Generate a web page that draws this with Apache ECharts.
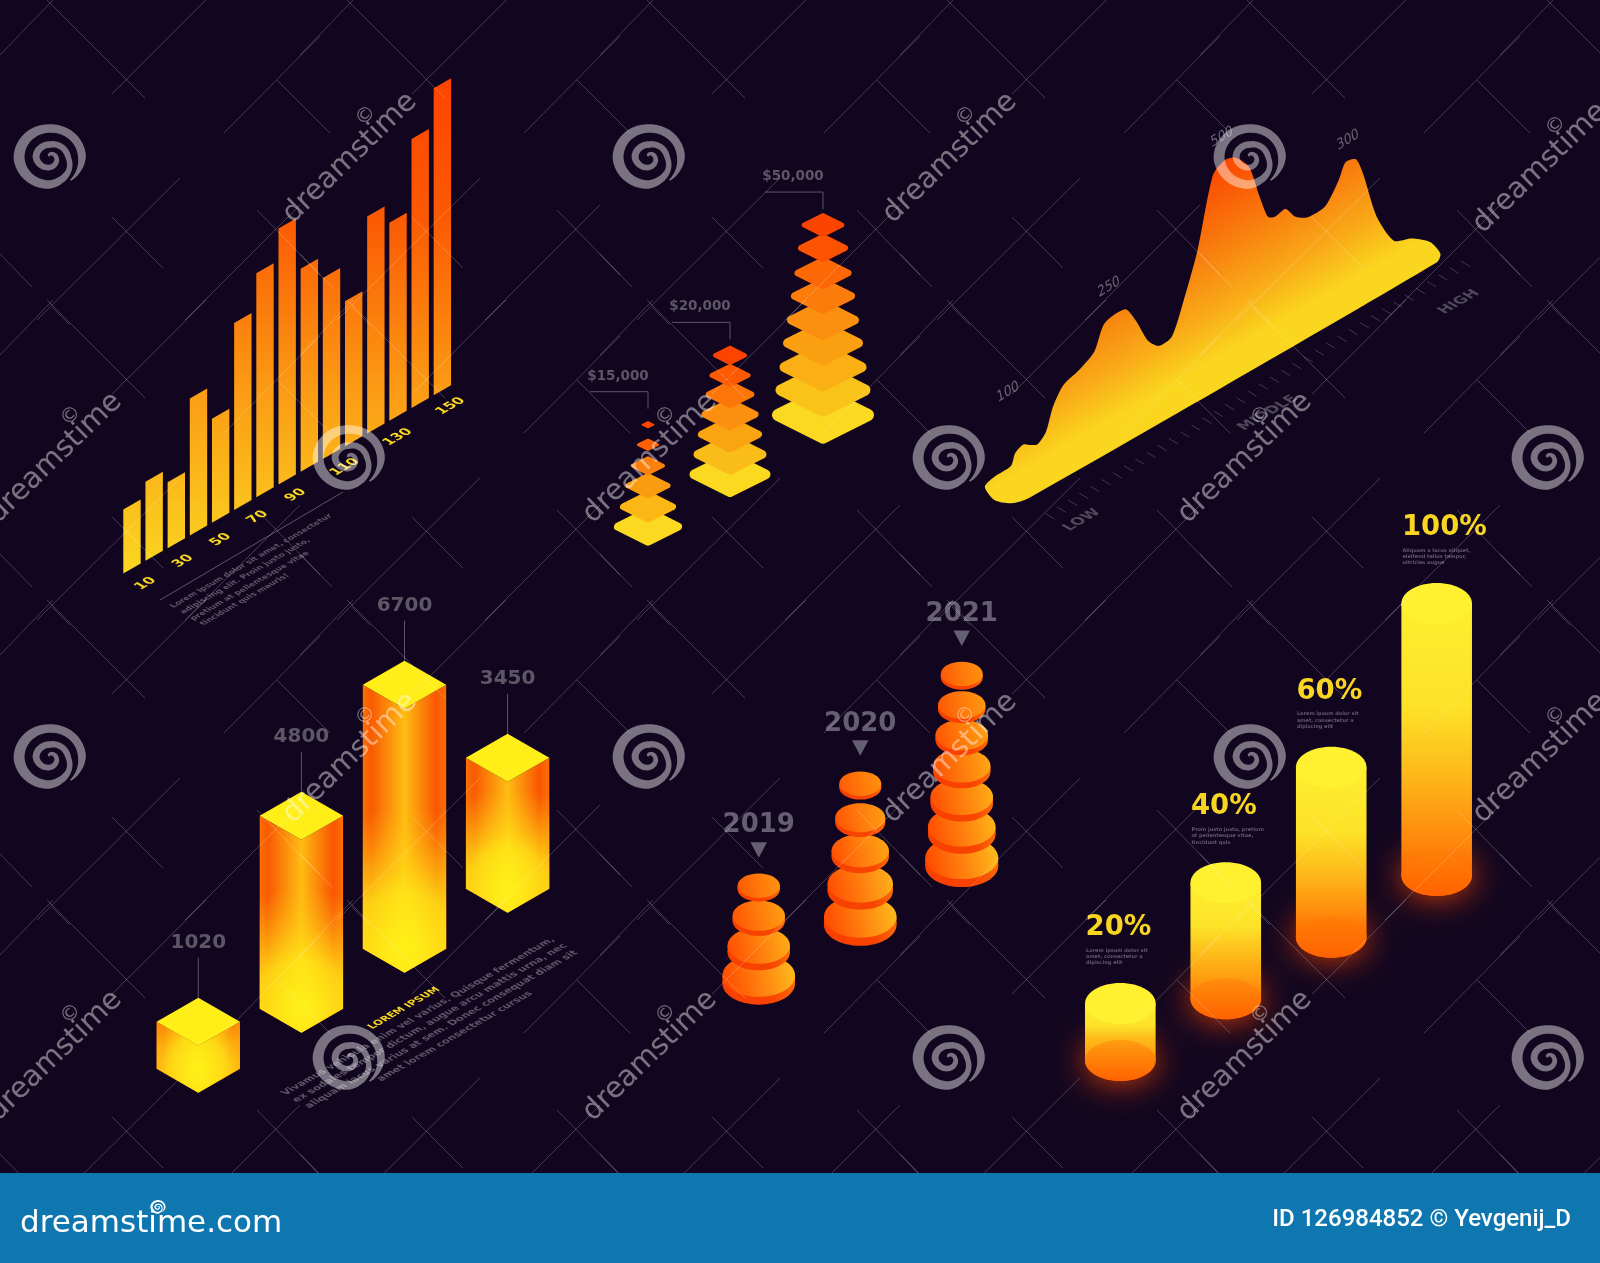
<!DOCTYPE html>
<html>
<head>
<meta charset="utf-8">
<title>isometric charts</title>
<script src="https://cdn.jsdelivr.net/npm/echarts@6/dist/echarts.min.js"></script>
<style>
html, body { margin: 0; background: #11051f; }
#main { width: 1600px; height: 1263px; }
</style>
</head>
<body>
<div id="main"></div>
<script>
// ---- data ----
const barCategories = ['10','20','30','40','50','60','70','80','90','100','110','120','130','140','150'];
const barValues = [64, 79, 66, 137, 104, 187, 224, 256, 203, 181, 145, 217, 198, 269, 307];
const barTickLabels = ['10','30','50','70','90','110','130','150'];

const towerLabels = ['$15,000', '$20,000', '$50,000'];
const towerPos = [0, 82, 175];
const towerHeights15k = [0, 20, 41, 61, 82, 102];
const towerWidths15k = [34, 28, 22.5, 17, 11, 6.5];
const towerHeights20k = [0, 20, 40, 60, 80, 99, 119];
const towerWidths20k = [40.5, 36.5, 32, 28.5, 24.3, 20.5, 17];
const towerHeights50k = [0, 25, 48, 72, 95, 119, 142, 167, 190];
const towerWidths50k = [51, 47.5, 43.5, 40, 36, 32, 28.5, 25, 21.3];

const areaPos = [9.8, 19.4, 36, 40.1, 48.7, 55.6, 62.5, 71, 78, 88.3, 103.8, 119.3, 129.6, 150.3, 160.6, 172.7, 184, 196.8, 208.8, 222.6, 238, 250, 260.5, 274, 284.6, 293, 300, 310.4, 320.7, 332.8, 350, 363.8, 370.7, 381, 387.9, 401.7, 418.9, 436, 455, 465.4, 462];
const areaValues = [36.8, 41.3, 42.4, 52.7, 56.7, 52, 48.8, 56.5, 77.4, 93, 99, 108.6, 131, 133, 116, 89, 77, 78.7, 108.5, 150.5, 216.6, 224.7, 221, 204, 168, 143, 139, 140.8, 127, 119.6, 120.3, 139, 153, 149.7, 131.7, 80.3, 46.3, 38.7, 24.3, 6.7, 0];
const areaLowPos = [54, 36.7, 19.4];
const areaLowValues = [0, 4.7, 18];
const areaScaleLabels = ['100', '250', '500', '300'];
const areaBandLabels = ['LOW', 'MIDDLE', 'HIGH'];

const boxLabels = ['1020', '4800', '6700', '3450'];
const boxHeights = [47, 193, 264, 131];

const discYears = ['2019', '2020', '2021'];
const discHeights2019 = [0, 30, 60, 90];
const discWidths2019 = [36.3, 31.2, 26.2, 21.2];
const discHeights2020 = [0, 33, 66, 99, 133];
const discWidths2020 = [36.3, 32.7, 28.7, 25, 21];
const discHeights2021 = [0, 31, 61, 92, 123, 153, 184];
const discWidths2021 = [36.5, 33.8, 31.3, 28.7, 26.3, 23.7, 21];

const cylLabels = ['20%', '40%', '60%', '100%'];
const cylHeights = [57, 116, 170, 272];
const cylNotes = [
  ['Lorem ipsum dolor sit', 'amet, consectetur a', 'dipiscing elit'],
  ['Proin justo justo, pretium', 'at pellentesque vitae,', 'tincidunt quis'],
  ['Lorem ipsum dolor sit', 'amet, consectetur a', 'dipiscing elit'],
  ['Aliquam a lacus aliquet,', 'eleifend tellus tempor,', 'ultricies augue']
];

// ---- look ----
const BG = '#11051f';
const GREY = '#5c5767';
const YELLOW = '#f8d521';
const FLOOR = [0.866, -0.5, 0.866, 0.5];   // text lying on the floor
const WALL = [0.8, -0.5, 0.22, 1];         // text standing on a wall
const towerColors = ['#fbd921', '#fac31a', '#faaf14', '#fa9f10', '#fb9010', '#fb7c0b', '#fc6805', '#fd5300', '#fb4400'];
const bold = function (n) { return 'bold ' + n + 'px "DejaVu Sans"'; };

function hex2rgb(c) {
  return [parseInt(c.substr(1, 2), 16), parseInt(c.substr(3, 2), 16), parseInt(c.substr(5, 2), 16)];
}
function mix(a, b, t) {
  var x = hex2rgb(a), y = hex2rgb(b);
  return 'rgb(' + x.map(function (v, i) { return Math.round(v + (y[i] - v) * t); }).join(',') + ')';
}
function ramp(list, t) {
  var p = t * (list.length - 1), i = Math.min(Math.floor(p), list.length - 2);
  return mix(list[i], list[i + 1], p - i);
}
// isometric look: each panel's plain cartesian point gets lifted along its baseline
function lifted(p, x0, slope) {
  return [p[0], p[1] - (p[0] - x0) * slope];
}
function flatText(x, y, str, font, fill, align) {
  return { type: 'text', x: x, y: y, style: { text: str, font: font, fill: fill, align: align || 'center', verticalAlign: 'middle' } };
}
// any 2x2 matrix as rotate * scale * rotate, so it works with group + text
function skewText(x, y, str, font, fill, m, align) {
  var E = (m[0] + m[3]) / 2, F = (m[0] - m[3]) / 2, G = (m[1] + m[2]) / 2, H = (m[1] - m[2]) / 2;
  var Q = Math.hypot(E, H), R = Math.hypot(F, G);
  var a1 = Math.atan2(G, F), a2 = Math.atan2(H, E);
  return {
    type: 'group', x: x, y: y, rotation: -(a2 + a1) / 2, scaleX: Q + R, scaleY: Q - R,
    children: [{ type: 'text', rotation: -(a2 - a1) / 2, style: { text: str, font: font, fill: fill, align: align || 'center', verticalAlign: 'middle' } }]
  };
}
function leader(points) {
  return { type: 'polyline', shape: { points: points }, style: { stroke: GREY, lineWidth: 1, fill: null } };
}

// ---- panels ----
const grids = [
  { left: 120.9, top: 248.6, width: 332.55, height: 320 },
  { left: 588, top: 286.7, width: 300, height: 240 },
  { left: 975, top: 289.2, width: 475, height: 240 },
  { left: 146.75, top: 792.7, width: 412.4, height: 300 },
  { left: 708, top: 775.7, width: 304.5, height: 200 },
  { left: 1067.6, top: 760.5, width: 421.8, height: 300 }
];
const xAxes = [
  { gridIndex: 0, type: 'category', data: barCategories, show: false },
  { gridIndex: 1, type: 'value', min: -60, max: 240, show: false },
  { gridIndex: 2, type: 'value', min: 0, max: 475, show: false },
  { gridIndex: 3, type: 'category', data: boxLabels, show: false },
  { gridIndex: 4, type: 'category', data: discYears, show: false },
  { gridIndex: 5, type: 'category', data: cylLabels, show: false }
];
const yAxes = [
  { gridIndex: 0, type: 'value', min: 0, max: 320, show: false },
  { gridIndex: 1, type: 'value', min: 0, max: 240, show: false },
  { gridIndex: 2, type: 'value', min: 0, max: 240, show: false },
  { gridIndex: 3, type: 'value', min: 0, max: 300, show: false },
  { gridIndex: 4, type: 'value', min: 0, max: 200, show: false },
  { gridIndex: 5, type: 'value', min: 0, max: 300, show: false }
];

// bars
const barFill = new echarts.graphic.LinearGradient(0, 575, 0, 80, [
  { offset: 0, color: '#fad821' }, { offset: 0.38, color: '#fb9a14' },
  { offset: 0.72, color: '#fb5a03' }, { offset: 1, color: '#ff4400' }
], true);
function renderBar(params, api) {
  var i = api.value(0), half = 8.7, x0 = 132, s = 0.5746;
  var base = api.coord([i, 0]), top = api.coord([i, api.value(1)]);
  var l = lifted([base[0] - half, base[1]], x0, s), r = lifted([base[0] + half, base[1]], x0, s);
  var h = base[1] - top[1];
  return {
    type: 'polygon',
    shape: { points: [l, r, [r[0], r[1] - h], [l[0], l[1] - h]] },
    style: { fill: barFill }
  };
}

// towers of rounded diamonds
const towerRows = [];
[[towerHeights15k, towerWidths15k], [towerHeights20k, towerWidths20k], [towerHeights50k, towerWidths50k]].forEach(function (t, k) {
  t[0].forEach(function (h, j) { towerRows.push([towerPos[k], h, t[1][j], j / (t[0].length - 1)]); });
});
function renderLayer(params, api) {
  var p = lifted(api.coord([api.value(0), api.value(1)]), 648, 0.638);
  var w = api.size([0, api.value(2)])[1], r = w * 0.12;
  var pw = w * 0.88, ph = w * 0.44, c = ramp(towerColors, api.value(3));
  return {
    type: 'polygon',
    shape: { points: [[p[0] - pw, p[1]], [p[0], p[1] - ph], [p[0] + pw, p[1]], [p[0], p[1] + ph]] },
    style: { fill: c, stroke: c, lineWidth: r * 2, lineJoin: 'round' }
  };
}
const towerTops = [towerHeights15k[5], towerHeights20k[6], towerHeights50k[8]];
function renderTowerLabel(params, api) {
  var i = params.dataIndex;
  var p = lifted(api.coord([towerPos[i], towerTops[i]]), 648, 0.638);
  return {
    type: 'group', children: [
      flatText(p[0] - 30, p[1] - 48.6, towerLabels[i], bold(13.5), GREY),
      leader([[p[0], p[1] - 16], [p[0], p[1] - 33], [p[0] - 58, p[1] - 33]])
    ]
  };
}

// mountain area
const areaFill = new echarts.graphic.LinearGradient(1170, 190, 1255, 337, [
  { offset: 0, color: '#fb4500' }, { offset: 0.45, color: '#f8810f' },
  { offset: 0.75, color: '#f9ab18' }, { offset: 1, color: '#fad61f' }
], true);
const areaRows = areaPos.map(function (x, i) { return [x, areaValues[i]]; })
  .concat(areaLowPos.map(function (x, i) { return [x, areaLowValues[i]]; }));
function renderArea(params, api) {
  var pts = areaRows.map(function (d) { return lifted(api.coord(d), 975, 0.578); });
  return { type: 'polygon', shape: { points: pts, smooth: 0.25 }, style: { fill: areaFill } };
}
function renderAreaTicks(params, api) {
  var kids = [];
  for (var x = 65; x < 486; x += 11.3) {
    var b = lifted(api.coord([x, 0]), 975, 0.578);
    var far = (x - 65) / 420;
    var off = 22 - 11 * far, len = 9;
    kids.push({
      type: 'line',
      shape: { x1: b[0] + off * 0.25, y1: b[1] + off, x2: b[0] + off * 0.25 + len, y2: b[1] + off + len * 0.6 },
      style: { stroke: '#3f3a4c', lineWidth: 1 }
    });
  }
  return { type: 'group', children: kids };
}

// boxes
function renderBox(params, api) {
  var i = api.value(0), hw = 41.7, hh = 24;
  var b = lifted(api.coord([i, 0]), 198.3, 0.5815);
  var h = api.size([0, api.value(1)])[1];
  var x = b[0], y = b[1], top = y - h;
  var front = [[x, y], [x - hw, y - hh], [x - hw, top - hh], [x, top], [x + hw, top - hh], [x + hw, y - hh]];
  var side = { type: 'linear', x: 0, y: 0, x2: 1, y2: 0, colorStops: [
    { offset: 0, color: '#fb6e05' }, { offset: 0.1, color: '#f85a02' }, { offset: 0.5, color: '#ffbc12' },
    { offset: 0.88, color: '#fa5602' }, { offset: 1, color: '#fb7005' }
  ] };
  var glow = new echarts.graphic.RadialGradient(x, y - 24, 62 + h * 0.3, [
    { offset: 0, color: 'rgba(255,240,24,1)' }, { offset: 0.4, color: 'rgba(255,236,24,0.8)' }, { offset: 1, color: 'rgba(255,200,20,0)' }
  ], true);
  return {
    type: 'group', children: [
      { type: 'polygon', shape: { points: front }, style: { fill: side } },
      { type: 'polygon', shape: { points: front }, style: { fill: glow } },
      { type: 'polygon', shape: { points: [[x, top], [x - hw, top - hh], [x, top - 2 * hh], [x + hw, top - hh]] }, style: { fill: '#ffee18' } },
      flatText(x, top - 2 * hh - 55, boxLabels[i], bold(20), GREY),
      leader([[x, top - 2 * hh - 40], [x, top - 2 * hh]])
    ]
  };
}

// disc stacks
const discRows = [];
[[discHeights2019, discWidths2019], [discHeights2020, discWidths2020], [discHeights2021, discWidths2021]].forEach(function (t, k) {
  t[0].forEach(function (h, j) { discRows.push([k, h, t[1][j]]); });
});
function renderDisc(params, api) {
  var p = lifted(api.coord([api.value(0), api.value(1)]), 758.7, 0.58);
  var w = api.size([0, api.value(2)])[1], ry = w * 0.58, rim = (w - 8) * 0.28;
  var t = (w - 21) / 15.5;
  var topFill = { type: 'linear', x: 0, y: 0.7, x2: 1, y2: 0.3, colorStops: [
    { offset: 0, color: mix('#fd5a05', '#ff4800', t) }, { offset: 0.55, color: mix('#ff7a0a', '#ff8610', t) }, { offset: 1, color: mix('#ff920f', '#fdbd1c', t) }
  ] };
  var rimFill = { type: 'linear', x: 0, y: 0, x2: 1, y2: 0, colorStops: [
    { offset: 0, color: '#f83f00' }, { offset: 0.7, color: '#f84400' }, { offset: 1, color: '#fa6a08' }
  ] };
  return {
    type: 'group', children: [
      { type: 'ellipse', shape: { cx: p[0], cy: p[1] + rim, rx: w, ry: ry }, style: { fill: rimFill } },
      { type: 'rect', shape: { x: p[0] - w, y: p[1], width: w * 2, height: rim }, style: { fill: rimFill } },
      { type: 'ellipse', shape: { cx: p[0], cy: p[1], rx: w, ry: ry }, style: { fill: topFill } }
    ]
  };
}
const discTops = [discHeights2019[3], discHeights2020[4], discHeights2021[6]];
function renderDiscLabel(params, api) {
  var i = params.dataIndex;
  var p = lifted(api.coord([i, discTops[i]]), 758.7, 0.58);
  return {
    type: 'group', children: [
      flatText(p[0], p[1] - 60, discYears[i], bold(26), '#645f72'),
      { type: 'polygon', shape: { points: [[p[0] - 8.3, p[1] - 43.5], [p[0] + 8.3, p[1] - 43.5], [p[0], p[1] - 28]] }, style: { fill: '#645f72' } }
    ]
  };
}

// cylinders
function renderCylinder(params, api) {
  var i = api.value(0), hw = 35.3, ry = 20.5;
  var b = lifted(api.coord([i, 0]), 1120.3, 0.5847);
  var h = api.size([0, api.value(1)])[1];
  var x = b[0], y = b[1], top = y - h;
  var low = mix('#ff9a10', '#ff6a05', Math.min(1, h / 170));
  var body = { type: 'linear', x: 0, y: 0, x2: 0, y2: 1, colorStops: [
    { offset: 0, color: '#ffee2e' }, { offset: 0.38, color: '#fde228' }, { offset: 0.62, color: '#fdba1a' },
    { offset: 0.86, color: mix('#ffb414', '#ff8a0c', Math.min(1, h / 170)) }, { offset: 1, color: low }
  ] };
  var foot = { type: 'linear', x: 0, y: 0, x2: 0, y2: 1, colorStops: [
    { offset: 0, color: mix('#ffae14', '#ff7e08', Math.min(1, h / 170)) }, { offset: 1, color: '#ff6200' }
  ] };
  var kids = [
    { type: 'ellipse', shape: { cx: x, cy: y, rx: hw, ry: ry }, style: { fill: '#ff5a00', shadowBlur: 34, shadowColor: 'rgba(255,72,0,0.95)' } },
    { type: 'rect', shape: { x: x - hw, y: top, width: hw * 2, height: h }, style: { fill: body } },
    { type: 'ellipse', shape: { cx: x, cy: y, rx: hw, ry: ry }, style: { fill: foot } },
    { type: 'ellipse', shape: { cx: x, cy: top, rx: hw, ry: ry }, style: { fill: '#fff030' } },
    flatText(x - hw + 0.5, top - 75.5, cylLabels[i], bold(27.5), YELLOW, 'left')
  ];
  cylNotes[i].forEach(function (line, n) {
    kids.push(flatText(x - hw + 1, top - 53 + n * 6.2, line, bold(5), '#5f5a70', 'left'));
  });
  return { type: 'group', children: kids };
}

// text that lies on a panel's floor or wall
const annots = [
  [145.7, 583.5, barTickLabels[0], bold(13.5), YELLOW, FLOOR],
  [183, 561, barTickLabels[1], bold(13.5), YELLOW, FLOOR],
  [220.7, 539.5, barTickLabels[2], bold(13.5), YELLOW, FLOOR],
  [257.7, 517, barTickLabels[3], bold(13.5), YELLOW, FLOOR],
  [295.7, 495, barTickLabels[4], bold(13.5), YELLOW, FLOOR],
  [345, 467, barTickLabels[5], bold(13.5), YELLOW, FLOOR],
  [398, 437, barTickLabels[6], bold(13.5), YELLOW, FLOOR],
  [450.7, 406, barTickLabels[7], bold(13.5), YELLOW, FLOOR],
  [171.7, 607, 'Lorem ipsum dolor sit amet, consectetur', bold(8), GREY, FLOOR, 'left'],
  [181.7, 613, 'adipiscing elit. Proin justo justo,', bold(8), GREY, FLOOR, 'left'],
  [191.7, 619.5, 'pretium at pellentesque vitae', bold(8), GREY, FLOOR, 'left'],
  [201.7, 624.5, 'tincidunt quis mauris!', bold(8), GREY, FLOOR, 'left'],
  [404.2, 1008.2, 'LOREM IPSUM', bold(10), YELLOW, FLOOR],
  [418.3, 1016.5, 'Vivamus vehicula enim vel varius. Quisque fermentum,', bold(10), GREY, FLOOR],
  [430, 1023, 'ex sodales tempor dictum, augue arcu mattis urna, nec', bold(10), GREY, FLOOR],
  [441.6, 1029.5, 'aliquam lacus varius at sem. Donec consequat diam sit', bold(10), GREY, FLOOR],
  [455, 1036.3, 'amet lorem consectetur cursus', bold(10), GREY, FLOOR],
  [1082, 520, areaBandLabels[0], bold(14.5), '#4f4a5c', FLOOR],
  [1268, 413, areaBandLabels[1], bold(14.5), '#4f4a5c', FLOOR],
  [1459, 302, areaBandLabels[2], bold(14.5), '#4f4a5c', FLOOR],
  [1008, 392, areaScaleLabels[0], '14px "DejaVu Sans"', '#6a6675', WALL],
  [1109, 287, areaScaleLabels[1], '14px "DejaVu Sans"', '#6a6675', WALL],
  [1222, 137, areaScaleLabels[2], '14px "DejaVu Sans"', '#6a6675', WALL],
  [1348, 140, areaScaleLabels[3], '14px "DejaVu Sans"', '#6a6675', WALL]
];
function renderAnnot(params) {
  var a = annots[params.dataIndex];
  return skewText(a[0], a[1], a[2], a[3], a[4], a[5], a[6]);
}

function customOn(idx, data, render) {
  return { type: 'custom', coordinateSystem: 'cartesian2d', xAxisIndex: idx, yAxisIndex: idx, data: data, renderItem: render, silent: true, clip: false, animation: false };
}
const series = [
  customOn(2, [[0, 0]], renderAreaTicks),
  customOn(2, [[0, 0]], renderArea),
  customOn(0, barValues.map(function (v, i) { return [i, v]; }), renderBar),
  customOn(1, towerRows, renderLayer),
  customOn(1, towerLabels.map(function (v, i) { return [i, 0]; }), renderTowerLabel),
  customOn(3, boxHeights.map(function (v, i) { return [i, v]; }), renderBox),
  customOn(4, discRows, renderDisc),
  customOn(4, discYears.map(function (v, i) { return [i, 0]; }), renderDiscLabel),
  customOn(5, cylHeights.map(function (v, i) { return [i, v]; }), renderCylinder),
  { type: 'custom', coordinateSystem: 'none', data: annots.map(function (a, i) { return [i]; }), renderItem: renderAnnot, silent: true, animation: false }
];

// ---- stock-photo overlay: thin lattice, spirals, wordmarks, footer ----
const latticeSegs = [
  [0, 55, 53, 0], [112, 94, 206, 0], [224, 133, 320, 36], [37, 320, 180, 178], [185, 320, 300, 205],
  [47, 0, 145, 98], [277, 80, 330, 133], [112, 217, 163, 268], [257, 210, 320, 275], [0, 254, 32, 287], [52, 307, 70, 325]
];
const spiralSpots = [[50, 157], [649, 157], [1250, 157], [349, 458], [949, 458], [1548, 458], [50, 757], [649, 757], [1250, 757], [349, 1058], [949, 1058], [1548, 1058]];
const markSpots = [[350, 158], [950, 158], [1540, 168], [55, 458], [650, 458], [1245, 458], [350, 758], [950, 758], [1540, 758], [55, 1056], [650, 1056], [1245, 1056]];
const spiralKnots = [[-150, 1.5, 2], [-90, 3, 4], [0, 6, 5], [90, 11, 6], [180, 14, 7], [270, 13, 7], [360, 18, 6], [400, 24, 6], [450, 29, 9], [540, 31, 11], [630, 30, 9], [720, 32, 8], [770, 32, 1.5]];
const WM = 'rgba(255,255,255,0.44)';

function spiralPolygon(cx, cy, k) {
  var outer = [], inner = [];
  for (var a = -150; a <= 770; a += 8) {
    var j = 0;
    while (j < spiralKnots.length - 2 && spiralKnots[j + 1][0] < a) j++;
    var p = spiralKnots[j], q = spiralKnots[j + 1], t = (a - p[0]) / (q[0] - p[0]);
    var r = p[1] + (q[1] - p[1]) * t, w = p[2] + (q[2] - p[2]) * t;
    var c = Math.cos(a * Math.PI / 180), s = Math.sin(a * Math.PI / 180);
    outer.push([cx + k * (r + w / 2) * c, cy + k * 0.95 * (r + w / 2) * s]);
    inner.unshift([cx + k * (r - w / 2) * c, cy + k * 0.95 * (r - w / 2) * s]);
  }
  return outer.concat(inner);
}

const overlay = [];
for (var row = 0; row < 4; row++) {
  for (var col = 0; col < 6; col++) {
    latticeSegs.forEach(function (g) {
      overlay.push({
        type: 'line', z: 50, silent: true,
        shape: { x1: g[0] + col * 300, y1: g[1] + row * 300, x2: g[2] + col * 300, y2: g[3] + row * 300 },
        style: { stroke: 'rgba(255,255,255,0.22)', lineWidth: 1 }
      });
    });
  }
}
spiralSpots.forEach(function (p) {
  overlay.push({ type: 'polygon', z: 51, silent: true, shape: { points: spiralPolygon(p[0], p[1], 1) }, style: { fill: WM } });
});
markSpots.forEach(function (p) {
  overlay.push({
    type: 'text', z: 51, silent: true, x: p[0], y: p[1], rotation: 0.77,
    style: { text: 'dreamstime', font: '29px "DejaVu Sans"', fill: WM, align: 'center', verticalAlign: 'middle' }
  });
  overlay.push({
    type: 'text', z: 51, silent: true, x: p[0] + 16, y: p[1] - 42, rotation: 0.77,
    style: { text: '\u00a9', font: '20px "DejaVu Sans"', fill: WM, align: 'center', verticalAlign: 'middle' }
  });
});
overlay.push({ type: 'rect', z: 60, silent: true, shape: { x: 0, y: 1173, width: 1600, height: 90 }, style: { fill: '#0f77b0' } });
overlay.push({ type: 'text', z: 61, silent: true, x: 20, y: 1224, style: { text: 'dreamstime.com', font: '31px "DejaVu Sans"', fill: '#ffffff', align: 'left', verticalAlign: 'middle' } });
overlay.push({ type: 'polygon', z: 61, silent: true, shape: { points: spiralPolygon(158, 1207, 0.21) }, style: { fill: '#ffffff' } });
overlay.push({ type: 'text', z: 61, silent: true, x: 1571, y: 1220, style: { text: 'ID 126984852 \u00a9 Yevgenij_D', font: '500 24px Roboto', fill: '#ffffff', align: 'right', verticalAlign: 'middle' } });
// thin rule over the first paragraph
overlay.push({ type: 'line', z: 10, silent: true, shape: { x1: 160, y1: 600, x2: 343, y2: 492 }, style: { stroke: GREY, lineWidth: 1 } });

const chart = echarts.init(document.getElementById('main'), null, { renderer: 'canvas' });
chart.setOption({
  backgroundColor: BG,
  animation: false,
  grid: grids,
  xAxis: xAxes,
  yAxis: yAxes,
  graphic: { elements: overlay },
  series: series
});
</script>
</body>
</html>
